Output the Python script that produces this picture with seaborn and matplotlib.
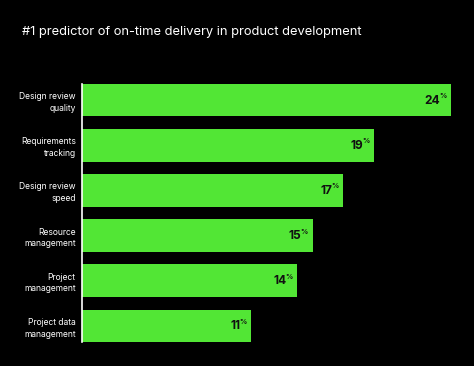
import matplotlib
matplotlib.use("Agg")
import matplotlib.pyplot as plt
import seaborn as sns
import pandas as pd

categories = ["Design review\nquality", "Requirements\ntracking", "Design review\nspeed",
              "Resource\nmanagement", "Project\nmanagement", "Project data\nmanagement"]
values = [24, 19, 17, 15, 14, 11]

GREEN = "#52e635"
BG = "#000000"

sns.set_theme(style="white")
plt.rcParams['font.family'] = ['Inter', 'DejaVu Sans']

df = pd.DataFrame({"category": categories, "value": values})

fig = plt.figure(figsize=(4.74, 3.66), dpi=100, facecolor=BG)
ax = fig.add_axes([82 / 474, 24 / 366, 1 - 82 / 474, (342 - 84) / 366])
ax.set_facecolor(BG)

w = 0.72
sns.barplot(data=df, x="value", y="category", color=GREEN, saturation=1,
            width=w, ax=ax, edgecolor="none")

ax.set_xlim(0, 25.5)
ax.set_ylim(len(values) - 1 + w / 2, -w / 2)
ax.set_xlabel("")
ax.set_ylabel("")
ax.set_xticks([])
for s in ["top", "right", "bottom"]:
    ax.spines[s].set_visible(False)
ax.spines["left"].set_color("white")
ax.spines["left"].set_linewidth(1.2)
ax.tick_params(axis="y", length=0, pad=4.5, labelsize=6.1, labelcolor="white")
for lab in ax.get_yticklabels():
    lab.set_horizontalalignment("right")
    lab.set_linespacing(1.4)

px = 0.72  # points per pixel at 100 dpi
for i, v in enumerate(values):
    ax.annotate(str(v), xy=(v, i), xytext=(-11 * px, -0.5 * px), textcoords="offset points",
                ha="right", va="center", fontsize=8.6, fontweight="bold", color="#111111")
    ax.annotate("%", xy=(v, i), xytext=(-12 * px, 1.0 * px), textcoords="offset points",
                ha="left", va="bottom", fontsize=5.2, fontweight="bold", color="#111111")

fig.text(22 / 474, 1 - 31.5 / 366, "#1 predictor of on-time delivery in product development",
         color="white", fontsize=9.3, ha="left", va="center")

fig.savefig("out.png", dpi=100, facecolor=BG)
